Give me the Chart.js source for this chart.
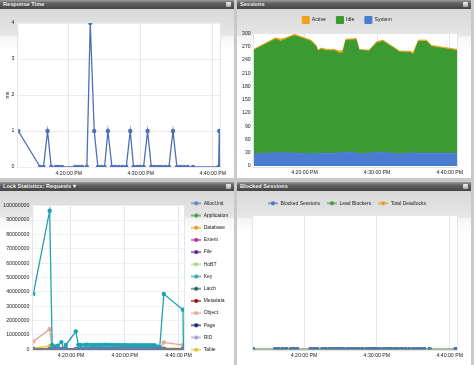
<!DOCTYPE html>
<html>
<head>
<meta charset="utf-8">
<script src="https://cdn.jsdelivr.net/npm/chart.js@4.4.0/dist/chart.umd.min.js"></script>
<style>
body{margin:0;width:474px;height:365px;overflow:hidden;background:#c9c9c9;position:relative;font-family:"Liberation Sans",Arial,sans-serif}
.panel{position:absolute;overflow:hidden;background:linear-gradient(#d9d9d9 9px,#e6e6e6 35px,#f5f5f5 37px,#fff 50px)}
.hdr{position:absolute;left:0;top:0;right:0;height:9px;background:linear-gradient(#9c9c9c,#636363 35%,#444);color:#fff;font:bold 5.6px "Liberation Sans",Arial,sans-serif;line-height:9px;padding-left:3px;white-space:nowrap;text-shadow:0 0 1px #222}
.hdr .btn{position:absolute;right:3px;top:2px;width:5px;height:5px;background:linear-gradient(#f2f2f2,#a8a8a8);border-radius:1px}
.box{position:absolute;left:0;top:9px;width:234px}
</style>
</head>
<body>
<div class="panel" style="left:0;top:0;width:234px;height:178px">
  <div class="hdr">Response Time<span class="btn"></span></div>
  <div class="box" style="height:169px"><canvas id="rt"></canvas></div>
</div>
<div class="panel" style="left:237px;top:0;width:234px;height:178px">
  <div class="hdr">Sessions<span class="btn"></span></div>
  <div class="box" style="height:169px"><canvas id="ses"></canvas></div>
</div>
<div class="panel" style="left:0;top:182px;width:234px;height:183px">
  <div class="hdr">Lock Statistics: Requests &#9662;<span class="btn"></span></div>
  <div class="box" style="height:174px"><canvas id="lock"></canvas></div>
</div>
<div class="panel" style="left:237px;top:182px;width:234px;height:183px">
  <div class="hdr">Blocked Sessions<span class="btn"></span></div>
  <div class="box" style="height:174px"><canvas id="blk"></canvas></div>
</div>
<script>
// x values are minutes after 4:00 PM
const timeMin = 13, timeMax = 41;
const tickMinutes = [20, 30, 40];
const tickLabels = ['4:20:00 PM', '4:30:00 PM', '4:40:00 PM'];

// sample times shared by response time, lock and blocked charts
const sampleTimes = [13.0, 16.04, 16.5, 17.06, 17.57, 18.22, 18.59, 19.05, 20.9, 21.37, 21.83, 22.52, 22.99, 23.54, 24.05,
  24.51, 24.98, 25.44, 26.0, 26.46, 26.97, 27.48, 27.99, 28.54, 29.0, 29.47, 29.7, 29.93, 30.39, 30.95,
  31.46, 31.92, 32.43, 32.89, 33.4, 33.91, 34.47, 35.02, 35.49, 36.0, 36.5, 37.25, 40.81, 40.9, 41.0];

const responseMs = [1, 0, 0, 1, 0, 0, 0, 0, 0, 0, 0, 0, 4, 1, 0,
  0, 0, 1, 0, 0, 0, 0, 0, 1, 0, 0, 0, 0, 0, 1,
  0, 0, 0, 0, 0, 0, 1, 0, 0, 0, 0, 0, 0, 1, 0];

// sessions
const sessionTimes = [13.0, 16.0, 16.7, 17.4, 18.6, 20.9, 21.6, 21.8, 22.3, 23.0, 24.1, 24.8, 25.3, 25.7,
  26.7, 27.1, 27.5, 28.9, 29.9, 30.8, 33.1, 34.5, 35.0, 35.7, 36.8, 37.5, 41.0];
const systemSessions = [27, 30, 31, 30, 29, 28, 28, 28, 29, 29, 29, 30, 31, 31, 31, 30, 27, 29, 31, 31, 27, 29, 30, 29, 29, 29, 29];
const idleSessions = [235, 257, 251, 257, 266, 254, 242, 232, 235, 232, 232, 225, 225, 253, 254, 256, 235, 231, 247, 251, 231, 228, 222, 253, 253, 241, 232];
const activeSessions = [2, 3, 5, 3, 3, 3, 3, 2, 3, 3, 3, 5, 6, 3, 3, 3, 2, 2, 3, 3, 2, 3, 5, 3, 3, 3, 3];

// lock requests
const lockTypes = ['AllocUnit', 'Application', 'Database', 'Extent', 'File', 'HoBT', 'Key', 'Latch', 'Metadata', 'Object', 'Page', 'RID', 'Table'];
const lockColors = ['#5a7dc0', '#3f9a3f', '#e09a20', '#c0209a', '#5a1a9a', '#a8d08a', '#1fa2b2', '#23605e', '#8a0a0a', '#e6a49a', '#141a6a', '#a896e0', '#e8c22a'];
const keyRequests = [38500000, 96500000, 3000000, 2000000, 2500000, 5000000, 500000, 3000000, 12500000, 3100000,
  3000000, 3100000, 3200000, 3100000, 3000000, 3100000, 3100000, 3000000, 3100000, 3200000,
  3100000, 3100000, 3000000, 3000000, 2900000, 2900000, 2800000, 2800000, 2900000, 2900000,
  2800000, 2900000, 2900000, 2800000, 2900000, 2900000, 2800000, 2900000, 2800000, 2000000,
  1500000, 38500000, 27500000, 0, 0];
const objectRequests = [5500000, 14000000, 800000, 300000, 300000, 300000, 300000, 300000, 300000, 300000,
  300000, 300000, 300000, 300000, 300000, 300000, 300000, 300000, 300000, 300000,
  300000, 300000, 300000, 300000, 300000, 300000, 300000, 300000, 300000, 300000,
  300000, 300000, 300000, 300000, 300000, 300000, 300000, 300000, 300000, 300000,
  300000, 4800000, 3000000, 0, 0];
const tableRequests = [600000, 2200000, 1500000, 200000, 200000, 200000, 200000, 200000, 200000, 200000,
  200000, 200000, 200000, 200000, 200000, 200000, 200000, 200000, 200000, 200000,
  200000, 200000, 200000, 200000, 200000, 200000, 200000, 200000, 200000, 200000,
  200000, 200000, 200000, 200000, 200000, 200000, 200000, 200000, 200000, 200000,
  200000, 800000, 600000, 0, 0];
const flatZero = [0, 0, 0, 0, 0, 0, 0, 0, 0, 0, 0, 0, 0, 0, 0,
  0, 0, 0, 0, 0, 0, 0, 0, 0, 0, 0, 0, 0, 0, 0,
  0, 0, 0, 0, 0, 0, 0, 0, 0, 0, 0, 0, 0, 0, 0];
const lockSeries = {Key: keyRequests, Object: objectRequests, Table: tableRequests};

// blocked sessions
const blockedLabels = ['Blocked Sessions', 'Lead Blockers', 'Total Deadlocks'];
const blockedColors = ['#4d6fb8', '#3f9a3f', '#e09a20'];

Chart.defaults.font.family = '"Liberation Sans", Arial, sans-serif';
Chart.defaults.font.size = 5.2;
Chart.defaults.color = '#222';

const xy = (xs, ys) => xs.map((x, i) => ({x, y: ys[i]}));

function lineMarker(color) {
  const c = document.createElement('canvas');
  c.width = 10; c.height = 6;
  const g = c.getContext('2d');
  g.strokeStyle = color; g.lineWidth = 1.2;
  g.beginPath(); g.moveTo(0, 3); g.lineTo(10, 3); g.stroke();
  g.fillStyle = color;
  g.beginPath(); g.arc(5, 3, 2, 0, Math.PI * 2); g.fill();
  return c;
}
const markerLabels = chart => Chart.defaults.plugins.legend.labels.generateLabels(chart)
  .map(l => Object.assign(l, {pointStyle: lineMarker(l.strokeStyle)}));

const plotBg = {
  id: 'plotBg',
  beforeDraw(chart) {
    const {ctx, chartArea: a} = chart;
    ctx.save();
    ctx.fillStyle = '#fff';
    ctx.fillRect(a.left, a.top, a.width, a.height);
    ctx.strokeStyle = '#e2e5ea';
    ctx.lineWidth = 1;
    ctx.strokeRect(Math.round(a.left) - 0.5, Math.round(a.top) - 0.5, Math.round(a.width) + 1, Math.round(a.height) + 1);
    ctx.restore();
  }
};

function timeAxis(height) {
  return {
    type: 'linear', min: timeMin, max: timeMax,
    afterBuildTicks: s => { s.ticks = tickMinutes.map(v => ({value: v})); },
    afterFit: s => { s.height = height; },
    ticks: {autoSkip: false, maxRotation: 0, padding: 3.5, callback: (v, i) => tickLabels[i]},
    grid: {color: '#e1e7f0', drawTicks: false},
    border: {display: false}
  };
}
const base = {responsive: true, maintainAspectRatio: false, animation: false};

// Response Time
new Chart(document.getElementById('rt'), {
  type: 'line',
  data: {datasets: [{label: 'Response Time', data: xy(sampleTimes, responseMs), borderColor: '#4d6fb8', backgroundColor: '#4d6fb8',
    borderWidth: 1.3, pointRadius: 2.2, pointBorderWidth: 0, tension: 0}]},
  options: Object.assign({}, base, {
    layout: {padding: {top: 14, right: 14, bottom: 0, left: 0}},
    plugins: {legend: {display: false}, tooltip: {enabled: false}},
    scales: {
      x: timeAxis(11),
      y: {min: 0, max: 4, ticks: {stepSize: 1, padding: 4}, afterFit: s => { s.width = 18.3; },
        title: {display: true, text: 'ms', padding: {top: 4, bottom: 0}},
        grid: {color: '#ececec', drawTicks: false}, border: {display: false}}
    }
  }),
  plugins: [plotBg]
});

// Sessions
new Chart(document.getElementById('ses'), {
  type: 'line',
  data: {datasets: [
    {label: 'System', data: xy(sessionTimes, systemSessions), borderColor: '#4a7cd2', backgroundColor: '#4a7cd2', fill: 'origin'},
    {label: 'Idle', data: xy(sessionTimes, idleSessions), borderColor: '#3b9a31', backgroundColor: '#3b9a31', fill: '-1'},
    {label: 'Active', data: xy(sessionTimes, activeSessions), borderColor: '#eea21a', backgroundColor: '#eea21a', fill: '-1'}
  ].map(d => Object.assign(d, {borderWidth: 1, pointRadius: 0, tension: 0}))},
  options: Object.assign({}, base, {
    layout: {padding: {top: -3, right: 14, bottom: 0, left: 0}},
    plugins: {
      legend: {reverse: true, labels: {boxWidth: 7, boxHeight: 7, padding: 10.5}},
      tooltip: {enabled: false}
    },
    scales: {
      x: timeAxis(12),
      y: {stacked: true, min: 0, max: 300, ticks: {stepSize: 30, padding: 3}, afterFit: s => { s.width = 16.7; },
        grid: {display: false, drawTicks: false}, border: {display: false}}
    }
  }),
  plugins: [plotBg]
});

// Lock Statistics: Requests
new Chart(document.getElementById('lock'), {
  type: 'line',
  data: {datasets: lockTypes.map((name, i) => ({
    label: name, data: xy(sampleTimes, lockSeries[name] || flatZero),
    borderColor: lockColors[i], backgroundColor: lockColors[i],
    borderWidth: 1.3, pointRadius: 2.2, pointBorderWidth: 0, tension: 0
  }))},
  options: Object.assign({}, base, {
    layout: {padding: {top: 2.6, right: 0, bottom: 0, left: 0}},
    plugins: {
      legend: {position: 'right', align: 'start', maxWidth: 50,
        labels: {usePointStyle: true, pointStyleWidth: 10, padding: 7.2, font: {size: 5}, generateLabels: markerLabels}},
      tooltip: {enabled: false}
    },
    scales: {
      x: timeAxis(15.7),
      xt: {axis: 'x', position: 'top', display: true, afterFit: s => { s.height = 12.1; },
        ticks: {display: false}, grid: {display: false, drawTicks: false}, border: {display: false}},
      y: {min: 0, max: 100000000, ticks: {stepSize: 10000000, padding: 4, callback: v => String(v)},
        afterFit: s => { s.width = 33.3; },
        grid: {color: '#efefef', drawTicks: false}, border: {display: false}}
    }
  }),
  plugins: [plotBg]
});

// Blocked Sessions
new Chart(document.getElementById('blk'), {
  type: 'line',
  data: {datasets: blockedLabels.map((name, i) => ({
    label: name, data: xy(sampleTimes, flatZero),
    borderColor: blockedColors[i], backgroundColor: blockedColors[i],
    borderWidth: 1.3, pointRadius: 2.2, pointBorderWidth: 0, tension: 0
  }))},
  options: Object.assign({}, base, {
    layout: {padding: {top: 2.8, right: 14, bottom: 0, left: 0}},
    plugins: {
      legend: {labels: {usePointStyle: true, pointStyleWidth: 10, padding: 7, font: {size: 5}, generateLabels: markerLabels}},
      tooltip: {enabled: false}
    },
    scales: {
      x: timeAxis(15.7),
      y: {min: 0, max: 10, ticks: {display: false}, afterFit: s => { s.width = 16; },
        grid: {display: false, drawTicks: false}, border: {display: false}}
    }
  }),
  plugins: [plotBg]
});
</script>
</body>
</html>
